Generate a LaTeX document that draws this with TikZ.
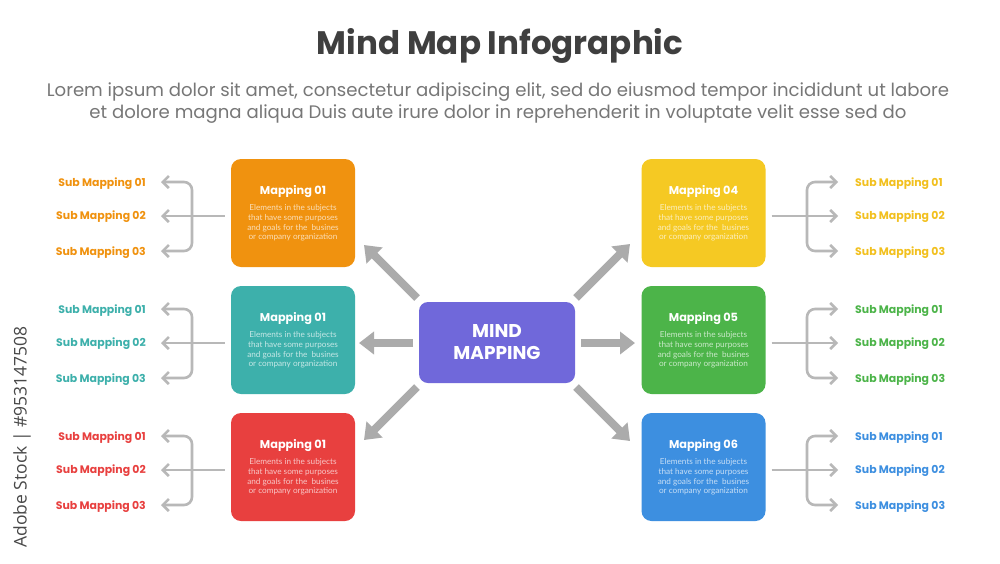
\documentclass[tikz,border=0pt]{standalone}
\usepackage{fontspec}
\setmainfont{Poppins}
\newfontfamily\pop{Poppins}
\newfontfamily\lato{Lato}
\newfontfamily\opensans{Open Sans}
\usetikzlibrary{arrows.meta,calc}
\definecolor{cOrange}{HTML}{F0920F}
\definecolor{cTeal}{HTML}{3DB0AB}
\definecolor{cRed}{HTML}{E8403F}
\definecolor{cYellow}{HTML}{F5C923}
\definecolor{cYellowT}{HTML}{F2C01E}
\definecolor{cGreen}{HTML}{4CB449}
\definecolor{cBlue}{HTML}{3D8FE0}
\definecolor{cPurple}{HTML}{7068DA}
\definecolor{cTitle}{HTML}{3F3F3F}
\definecolor{cSub}{HTML}{777777}
\definecolor{cLine}{HTML}{B8B8B8}
\definecolor{cArrow}{HTML}{ABABAB}
\definecolor{cStock}{HTML}{484848}
\tikzset{
  mapbox/.style={rounded corners=10pt, minimum width=124pt, minimum height=108pt, inner sep=0pt},
  head/.style={text=white, font=\pop\bfseries\fontsize{11.3}{13}\selectfont},
  body/.style={text=white, opacity=0.7, text opacity=0.7, align=center, font=\lato\fontsize{8.2}{9.8}\selectfont},
  sublab/.style={font=\pop\bfseries\fontsize{10.9}{13}\selectfont, inner sep=0pt},
  brk/.style={draw=cLine, line width=2.6pt},
  brka/.style={brk, -{Straight Barb[length=6pt,width=12pt,line width=2.6pt]}},
  fat/.style={draw=cArrow, line width=8pt, -{Triangle[width=22pt,length=15pt]}},
}
\newcommand{\mapboxdraw}[5]{% name, x, y, color, title
  \node[mapbox, fill=#4] (#1) at (#2,#3) {};
  \node[head] (#1h) at (#2,#3-21) {#5};
  \node[body] (#1b) at (#2,#3+10) {Elements in the subjects\\that have some purposes\\and goals for the\ \ busines\\or company organization};
}
\begin{document}
\begin{tikzpicture}[x=1pt,y=-1pt]
\useasboundingbox (0,0) rectangle (1000,563);
\fill[white] (0,0) rectangle (1000,563);

\node[text=cTitle, font=\pop\bfseries\fontsize{32.5}{38}\selectfont] (title) at (500,46) {Mind Map Infographic};
\node[text=cSub, align=center, font=\pop\fontsize{18.1}{22.5}\selectfont] (subtitle) at (498,103) {Lorem ipsum dolor sit amet, consectetur adipiscing elit, sed do eiusmod tempor incididunt ut labore\\et dolore magna aliqua Duis aute irure dolor in reprehenderit in voluptate velit esse sed do};

\node[rotate=90, text=cStock, font=\opensans\fontsize{17.5}{19}\selectfont] (stock) at (22,437) {Adobe Stock | \#953147508};

% center
\node[fill=cPurple, rounded corners=9pt, minimum width=156pt, minimum height=81pt, align=center, text=white, font=\pop\bfseries\fontsize{18.5}{22}\selectfont] (center) at (497,342.5) {MIND\\MAPPING};

% boxes
\mapboxdraw{m1}{293}{213}{cOrange}{Mapping 01}
\mapboxdraw{m2}{293}{340}{cTeal}{Mapping 01}
\mapboxdraw{m3}{293}{467}{cRed}{Mapping 01}
\mapboxdraw{m4}{703.5}{213}{cYellow}{Mapping 04}
\mapboxdraw{m5}{703.5}{340}{cGreen}{Mapping 05}
\mapboxdraw{m6}{703.5}{467}{cBlue}{Mapping 06}

% fat arrows
\coordinate (a1s) at (417,298); \coordinate (a1e) at (364,245);
\coordinate (a2s) at (413,343); \coordinate (a2e) at (359,343);
\coordinate (a3s) at (417,387); \coordinate (a3e) at (364,440);
\coordinate (a4s) at (576,298); \coordinate (a4e) at (630,244);
\coordinate (a5s) at (581,343); \coordinate (a5e) at (635,343);
\coordinate (a6s) at (576,387); \coordinate (a6e) at (630,441);
\foreach \i in {1,...,6} { \draw[fat] (a\i s) -- (a\i e); }

% left sub mappings
\foreach \bx/\cy/\col in {m1/213/cOrange, m2/340/cTeal, m3/467/cRed} {
  \node[sublab, text=\col, anchor=east] (\bx-s1) at (146,\cy-29) {Sub Mapping 01};
  \node[sublab, text=\col, anchor=east] (\bx-s2) at (146,\cy+4) {Sub Mapping 02};
  \node[sublab, text=\col, anchor=east] (\bx-s3) at (146,\cy+40) {Sub Mapping 03};
  \coordinate (\bx-j) at (192,\cy+3);
  \draw[brka] ([xshift=-6pt,yshift=-3pt]\bx.west) -- ($(\bx-s2.east)+(15,-1)$);
  \draw[brka, rounded corners=8pt] (\bx-j) |- ($(\bx-s1.east)+(15,-2)$);
  \draw[brka, rounded corners=8pt] (\bx-j) |- ($(\bx-s3.east)+(15,-2)$);
}
% right sub mappings
\foreach \bx/\cy/\col in {m4/213/cYellowT, m5/340/cGreen, m6/467/cBlue} {
  \node[sublab, text=\col, anchor=west] (\bx-s1) at (855,\cy-29) {Sub Mapping 01};
  \node[sublab, text=\col, anchor=west] (\bx-s2) at (855,\cy+4) {Sub Mapping 02};
  \node[sublab, text=\col, anchor=west] (\bx-s3) at (855,\cy+40) {Sub Mapping 03};
  \coordinate (\bx-j) at (807,\cy+3);
  \draw[brka] ([xshift=6pt,yshift=-3pt]\bx.east) -- ($(\bx-s2.west)+(-17,-1)$);
  \draw[brka, rounded corners=8pt] (\bx-j) |- ($(\bx-s1.west)+(-17,-2)$);
  \draw[brka, rounded corners=8pt] (\bx-j) |- ($(\bx-s3.west)+(-17,-2)$);
}
\end{tikzpicture}
\end{document}
